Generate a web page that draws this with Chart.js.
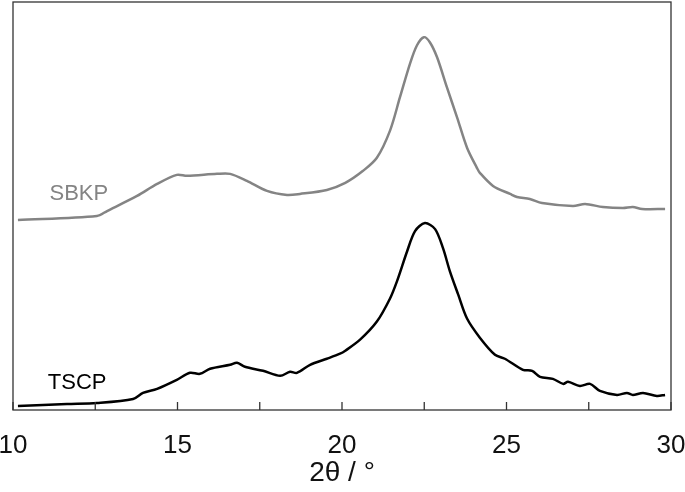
<!DOCTYPE html>
<html lang="en">
<head>
    <meta charset="UTF-8">
    <title>XRD patterns</title>
    <script src="https://cdn.jsdelivr.net/npm/chart.js"></script>
    <style>
        html, body { margin: 0; padding: 0; background: #fff; }
        .chart-container { width: 685px; height: 492px; position: relative; }
    </style>
</head>
<body>
    <div class="chart-container">
        <canvas id="xrd"></canvas>
    </div>

    <script>
        // 2theta positions and intensities (a.u.)
        const sbkpTheta = [10.15, 12.55, 12.86, 13.77, 14.38, 14.98, 15.29, 16.2, 16.6, 17.11, 17.72, 18.33, 18.72, 19.54, 20.1, 20.64, 21.06, 21.46, 21.76, 22.07, 22.28, 22.49, 22.67, 22.89, 23.19, 23.5, 23.8, 24.1, 24.19, 24.59, 25.11, 25.32, 25.71, 26.08, 27.02, 27.39, 27.93, 28.54, 28.84, 29.12, 29.82];
        const sbkpIntensity = [189, 193, 198, 213, 225, 234, 233, 235, 235, 228, 218, 214, 215, 219, 226, 238, 251, 278, 311, 345, 363, 371, 366, 351, 321, 291, 261, 241, 236, 223, 215, 212, 210, 206, 203, 205, 202, 201, 202, 200, 200];

        const tscpTheta = [10.15, 10.91, 11.64, 12.55, 13.65, 13.95, 14.38, 14.98, 15.38, 15.68, 15.99, 16.6, 16.81, 17.05, 17.6, 18.12, 18.42, 18.63, 19.03, 19.54, 19.94, 20.1, 20.55, 21.06, 21.46, 21.67, 21.98, 22.22, 22.52, 22.83, 23.07, 23.28, 23.53, 23.8, 24.19, 24.65, 24.95, 25.5, 25.78, 26.02, 26.41, 26.72, 26.87, 27.23, 27.54, 27.84, 28.36, 28.66, 28.84, 29.15, 29.57, 29.82];
        const tscpIntensity = [4, 5, 6, 7, 11, 17, 21, 30, 37, 36, 41, 45, 47, 43, 39, 34, 38, 37, 45, 51, 56, 59, 70, 88, 111, 128, 158, 178, 186, 180, 161, 138, 115, 91, 72, 55, 51, 40, 39, 33, 31, 26, 28, 24, 26, 19, 15, 17, 15, 17, 14, 15];

        const xTickLabels = [10, 15, 20, 25, 30];

        // curve names and where they sit (data coords)
        const seriesNames = ['SBKP', 'TSCP'];
        const seriesColors = ['#848484', '#000000'];
        const nameTheta = [12.0, 11.95];
        const nameIntensity = [215, 27];

        const toPoints = (xs, ys) => xs.map((x, i) => ({ x: x, y: ys[i] }));

        // frame + inward ticks + curve names
        const decorations = {
            id: 'decorations',
            afterDraw(chart) {
                const { ctx, chartArea, scales } = chart;
                ctx.save();
                ctx.strokeStyle = '#333';
                ctx.lineWidth = 1.3;
                ctx.strokeRect(chartArea.left, chartArea.top, chartArea.right - chartArea.left, chartArea.bottom - chartArea.top);

                scales.x.ticks.forEach(t => {
                    const px = scales.x.getPixelForValue(t.value);
                    ctx.beginPath();
                    ctx.moveTo(px, chartArea.bottom);
                    ctx.lineTo(px, chartArea.bottom - 8);
                    ctx.stroke();
                });

                ctx.font = '22px "Liberation Sans", Arial, sans-serif';
                ctx.textAlign = 'center';
                ctx.textBaseline = 'middle';
                seriesNames.forEach((name, i) => {
                    ctx.fillStyle = seriesColors[i];
                    ctx.fillText(name, scales.x.getPixelForValue(nameTheta[i]), scales.y.getPixelForValue(nameIntensity[i]));
                });
                ctx.restore();
            }
        };

        new Chart(document.getElementById('xrd'), {
            type: 'line',
            data: {
                datasets: [
                    {
                        label: seriesNames[0],
                        data: toPoints(sbkpTheta, sbkpIntensity),
                        borderColor: seriesColors[0],
                        borderWidth: 2.5,
                        pointRadius: 0,
                        tension: 0.3,
                        fill: false
                    },
                    {
                        label: seriesNames[1],
                        data: toPoints(tscpTheta, tscpIntensity),
                        borderColor: seriesColors[1],
                        borderWidth: 2.5,
                        pointRadius: 0,
                        tension: 0.3,
                        fill: false
                    }
                ]
            },
            options: {
                responsive: true,
                maintainAspectRatio: false,
                animation: false,
                layout: { padding: { top: 2, left: 13, right: 14, bottom: 2 } },
                plugins: {
                    legend: { display: false },
                    tooltip: { enabled: false }
                },
                scales: {
                    x: {
                        type: 'linear',
                        min: 10,
                        max: 30,
                        grid: { display: false, drawTicks: false },
                        border: { display: false },
                        // let the end labels hang over the frame, and fix the axis band height
                        afterFit: scale => {
                            scale.paddingLeft = 0;
                            scale.paddingRight = 0;
                            scale.height = 80;
                        },
                        ticks: {
                            stepSize: 2.5,
                            padding: 20,
                            maxRotation: 0,
                            color: '#111',
                            font: { family: '"Liberation Sans", Arial, sans-serif', size: 26 },
                            callback: v => xTickLabels.includes(v) ? String(v) : ''
                        },
                        title: {
                            display: true,
                            text: '2θ / °',
                            color: '#111',
                            font: { family: '"Liberation Sans", Arial, sans-serif', size: 28 },
                            padding: { top: 0, bottom: 0 }
                        }
                    },
                    y: {
                        display: false,
                        min: 0,
                        max: 406
                    }
                }
            },
            plugins: [decorations]
        });
    </script>
</body>
</html>
